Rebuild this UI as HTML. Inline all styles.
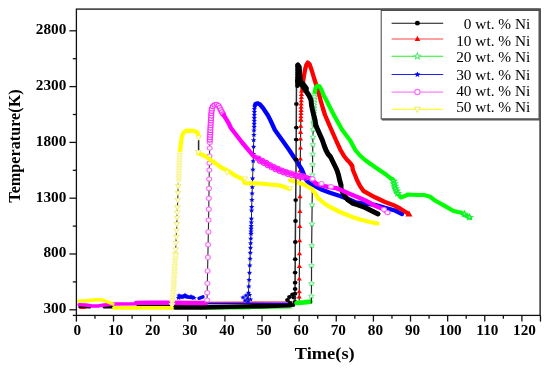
<!DOCTYPE html>
<html><head><meta charset="utf-8"><title>Temperature vs Time</title><style>
html,body{margin:0;padding:0;background:#fff;}
svg{display:block;}
.tl{font-family:"Liberation Serif",serif;font-weight:bold;font-size:14.0px;fill:#000;}
.at{font-family:"Liberation Serif",serif;font-weight:bold;font-size:16px;fill:#000;}
.lg{font-family:"Liberation Serif",serif;font-size:14.9px;fill:#000;}
</style></head>
<body><svg width="550" height="368" viewBox="0 0 550 368">
<rect x="0" y="0" width="550" height="368" fill="#fff"/>
<polyline points="200.0,309.2 250.0,309.0" fill="none" stroke="#00ff00" stroke-width="1.0" stroke-linejoin="round" stroke-linecap="round"/>
<polyline points="250.0,308.6 292.0,308.0" fill="none" stroke="#00ff00" stroke-width="1.0" stroke-linejoin="round" stroke-linecap="round"/>
<polyline points="79.5,307.0 90.0,307.3" fill="none" stroke="#000" stroke-width="2.4" stroke-linejoin="round" stroke-linecap="round"/>
<polyline points="104.0,307.2 113.0,307.2" fill="none" stroke="#000" stroke-width="2.4" stroke-linejoin="round" stroke-linecap="round"/>
<polyline points="137.0,305.6 172.0,305.6" fill="none" stroke="#000" stroke-width="1.4" stroke-linejoin="round" stroke-linecap="round"/>
<polyline points="175.0,307.4 200.0,307.4 230.0,306.8 260.0,306.2 290.0,305.2" fill="none" stroke="#000" stroke-width="4.6" stroke-linejoin="round" stroke-linecap="round"/>
<polyline points="80.0,308.4 85.0,308.4" fill="none" stroke="#ff0000" stroke-width="1.3" stroke-linejoin="round" stroke-linecap="round"/>
<polyline points="208.0,302.2 292.0,302.0" fill="none" stroke="#ff0000" stroke-width="1.1" stroke-linejoin="round" stroke-linecap="round"/>
<polyline points="205.0,303.5 290.0,303.3" fill="none" stroke="#0000ff" stroke-width="1.3" stroke-linejoin="round" stroke-linecap="round"/>
<polyline points="79.0,304.6 86.0,305.0 92.0,306.0 98.0,306.0 104.0,305.0 110.0,304.5 114.0,304.0 136.0,303.8" fill="none" stroke="#ff00ff" stroke-width="3.3" stroke-linejoin="round" stroke-linecap="round"/>
<polyline points="136.0,302.9 150.0,302.7 172.0,302.8 190.0,303.0 206.0,303.0" fill="none" stroke="#ff00ff" stroke-width="4.4" stroke-linejoin="round" stroke-linecap="round"/>
<polyline points="179.5,296.6 184.0,296.2 188.0,297.0 193.0,297.6" fill="none" stroke="#0000ff" stroke-width="3.6" stroke-linejoin="round" stroke-linecap="round"/>
<g transform="translate(179.0,295.5) scale(1.17,1)"><polygon points="0.00,-2.50 0.66,-0.91 2.38,-0.77 1.07,0.35 1.47,2.02 0.00,1.12 -1.47,2.02 -1.07,0.35 -2.38,-0.77 -0.66,-0.91" fill="#0000ff"/></g>
<g transform="translate(182.0,297.5) scale(1.17,1)"><polygon points="0.00,-2.50 0.66,-0.91 2.38,-0.77 1.07,0.35 1.47,2.02 0.00,1.12 -1.47,2.02 -1.07,0.35 -2.38,-0.77 -0.66,-0.91" fill="#0000ff"/></g>
<g transform="translate(185.0,295.0) scale(1.17,1)"><polygon points="0.00,-2.50 0.66,-0.91 2.38,-0.77 1.07,0.35 1.47,2.02 0.00,1.12 -1.47,2.02 -1.07,0.35 -2.38,-0.77 -0.66,-0.91" fill="#0000ff"/></g>
<g transform="translate(188.0,297.0) scale(1.17,1)"><polygon points="0.00,-2.50 0.66,-0.91 2.38,-0.77 1.07,0.35 1.47,2.02 0.00,1.12 -1.47,2.02 -1.07,0.35 -2.38,-0.77 -0.66,-0.91" fill="#0000ff"/></g>
<g transform="translate(191.0,296.5) scale(1.17,1)"><polygon points="0.00,-2.50 0.66,-0.91 2.38,-0.77 1.07,0.35 1.47,2.02 0.00,1.12 -1.47,2.02 -1.07,0.35 -2.38,-0.77 -0.66,-0.91" fill="#0000ff"/></g>
<g transform="translate(194.0,298.0) scale(1.17,1)"><polygon points="0.00,-2.50 0.66,-0.91 2.38,-0.77 1.07,0.35 1.47,2.02 0.00,1.12 -1.47,2.02 -1.07,0.35 -2.38,-0.77 -0.66,-0.91" fill="#0000ff"/></g>
<g transform="translate(178.5,298.0) scale(1.17,1)"><polygon points="0.00,-2.50 0.66,-0.91 2.38,-0.77 1.07,0.35 1.47,2.02 0.00,1.12 -1.47,2.02 -1.07,0.35 -2.38,-0.77 -0.66,-0.91" fill="#0000ff"/></g>
<polyline points="199.0,298.3 203.0,296.8" fill="none" stroke="#0000ff" stroke-width="3.4" stroke-linejoin="round" stroke-linecap="round"/>
<polyline points="78.5,301.0 86.0,300.8 92.0,300.3 95.0,299.7 101.0,299.7 105.0,300.9 109.0,302.5 113.0,304.0" fill="none" stroke="#ffff00" stroke-width="3.4" stroke-linejoin="round" stroke-linecap="round"/>
<polyline points="114.0,307.8 172.0,307.8" fill="none" stroke="#ffff00" stroke-width="3.8" stroke-linejoin="round" stroke-linecap="round"/>
<ellipse cx="287.5" cy="300" rx="2.4" ry="2.1" fill="#000"/>
<ellipse cx="289.5" cy="297" rx="2.4" ry="2.1" fill="#000"/>
<ellipse cx="292.5" cy="294.5" rx="2.4" ry="2.1" fill="#000"/>
<ellipse cx="294" cy="297.5" rx="2.4" ry="2.1" fill="#000"/>
<ellipse cx="295" cy="302" rx="2.4" ry="2.1" fill="#000"/>
<ellipse cx="293" cy="305" rx="2.4" ry="2.1" fill="#000"/>
<ellipse cx="290" cy="303" rx="2.4" ry="2.1" fill="#000"/>
<polyline points="296.5,303.0 304.0,302.4 310.5,301.6" fill="none" stroke="#00ff00" stroke-width="4.6" stroke-linejoin="round" stroke-linecap="round"/>
<g transform="translate(243.0,297.5) scale(1.17,1)"><polygon points="0.00,-2.50 0.66,-0.91 2.38,-0.77 1.07,0.35 1.47,2.02 0.00,1.12 -1.47,2.02 -1.07,0.35 -2.38,-0.77 -0.66,-0.91" fill="#0000ff"/></g>
<g transform="translate(246.0,295.5) scale(1.17,1)"><polygon points="0.00,-2.50 0.66,-0.91 2.38,-0.77 1.07,0.35 1.47,2.02 0.00,1.12 -1.47,2.02 -1.07,0.35 -2.38,-0.77 -0.66,-0.91" fill="#0000ff"/></g>
<g transform="translate(249.5,295.0) scale(1.17,1)"><polygon points="0.00,-2.50 0.66,-0.91 2.38,-0.77 1.07,0.35 1.47,2.02 0.00,1.12 -1.47,2.02 -1.07,0.35 -2.38,-0.77 -0.66,-0.91" fill="#0000ff"/></g>
<g transform="translate(247.5,298.5) scale(1.17,1)"><polygon points="0.00,-2.50 0.66,-0.91 2.38,-0.77 1.07,0.35 1.47,2.02 0.00,1.12 -1.47,2.02 -1.07,0.35 -2.38,-0.77 -0.66,-0.91" fill="#0000ff"/></g>
<g transform="translate(250.5,299.5) scale(1.17,1)"><polygon points="0.00,-2.50 0.66,-0.91 2.38,-0.77 1.07,0.35 1.47,2.02 0.00,1.12 -1.47,2.02 -1.07,0.35 -2.38,-0.77 -0.66,-0.91" fill="#0000ff"/></g>
<g transform="translate(245.0,300.5) scale(1.17,1)"><polygon points="0.00,-2.50 0.66,-0.91 2.38,-0.77 1.07,0.35 1.47,2.02 0.00,1.12 -1.47,2.02 -1.07,0.35 -2.38,-0.77 -0.66,-0.91" fill="#0000ff"/></g>
<g transform="translate(248.0,301.5) scale(1.17,1)"><polygon points="0.00,-2.50 0.66,-0.91 2.38,-0.77 1.07,0.35 1.47,2.02 0.00,1.12 -1.47,2.02 -1.07,0.35 -2.38,-0.77 -0.66,-0.91" fill="#0000ff"/></g>
<polyline points="172.0,305.0 173.5,290.0 175.0,262.0 176.5,232.0 177.5,205.0 178.6,178.0 179.5,160.0 180.5,148.0" fill="none" stroke="#2a2a2a" stroke-width="1.1" stroke-linejoin="round" stroke-linecap="round"/>
<polyline points="198.6,140.5 198.6,150.5" fill="none" stroke="#2a2a2a" stroke-width="1.5" stroke-linejoin="round" stroke-linecap="round"/>
<g transform="translate(178.3,186.3) scale(1.17,1)"><polygon points="0,2.4 2.2,-1.6 -2.2,-1.6" fill="#fff" stroke="#f2ee70" stroke-width="0.9"/></g>
<g transform="translate(178.0,192.8) scale(1.17,1)"><polygon points="0,2.4 2.2,-1.6 -2.2,-1.6" fill="#fff" stroke="#f2ee70" stroke-width="0.9"/></g>
<g transform="translate(177.7,200.0) scale(1.17,1)"><polygon points="0,2.4 2.2,-1.6 -2.2,-1.6" fill="#fff" stroke="#f2ee70" stroke-width="0.9"/></g>
<g transform="translate(177.4,207.3) scale(1.17,1)"><polygon points="0,2.4 2.2,-1.6 -2.2,-1.6" fill="#fff" stroke="#f2ee70" stroke-width="0.9"/></g>
<g transform="translate(177.2,212.5) scale(1.17,1)"><polygon points="0,2.4 2.2,-1.6 -2.2,-1.6" fill="#fff" stroke="#f2ee70" stroke-width="0.9"/></g>
<g transform="translate(177.0,217.7) scale(1.17,1)"><polygon points="0,2.4 2.2,-1.6 -2.2,-1.6" fill="#fff" stroke="#f2ee70" stroke-width="0.9"/></g>
<g transform="translate(176.8,224.1) scale(1.17,1)"><polygon points="0,2.4 2.2,-1.6 -2.2,-1.6" fill="#fff" stroke="#f2ee70" stroke-width="0.9"/></g>
<g transform="translate(176.6,230.5) scale(1.17,1)"><polygon points="0,2.4 2.2,-1.6 -2.2,-1.6" fill="#fff" stroke="#f2ee70" stroke-width="0.9"/></g>
<g transform="translate(176.3,236.8) scale(1.17,1)"><polygon points="0,2.4 2.2,-1.6 -2.2,-1.6" fill="#fff" stroke="#f2ee70" stroke-width="0.9"/></g>
<g transform="translate(175.9,243.2) scale(1.17,1)"><polygon points="0,2.4 2.2,-1.6 -2.2,-1.6" fill="#fff" stroke="#f2ee70" stroke-width="0.9"/></g>
<g transform="translate(175.6,249.5) scale(1.17,1)"><polygon points="0,2.4 2.2,-1.6 -2.2,-1.6" fill="#fff" stroke="#f2ee70" stroke-width="0.9"/></g>
<g transform="translate(175.4,254.0) scale(1.17,1)"><polygon points="0,2.4 2.2,-1.6 -2.2,-1.6" fill="#fff" stroke="#f2ee70" stroke-width="0.9"/></g>
<g transform="translate(178.6,181.0) scale(1.17,1)"><polygon points="0,2.4 2.2,-1.6 -2.2,-1.6" fill="#fff" stroke="#f8f590" stroke-width="0.9"/></g>
<g transform="translate(178.7,178.4) scale(1.17,1)"><polygon points="0,2.4 2.2,-1.6 -2.2,-1.6" fill="#fff" stroke="#f8f590" stroke-width="0.9"/></g>
<g transform="translate(178.8,175.8) scale(1.17,1)"><polygon points="0,2.4 2.2,-1.6 -2.2,-1.6" fill="#fff" stroke="#f8f590" stroke-width="0.9"/></g>
<g transform="translate(178.9,173.2) scale(1.17,1)"><polygon points="0,2.4 2.2,-1.6 -2.2,-1.6" fill="#fff" stroke="#f8f590" stroke-width="0.9"/></g>
<g transform="translate(179.1,170.6) scale(1.17,1)"><polygon points="0,2.4 2.2,-1.6 -2.2,-1.6" fill="#fff" stroke="#f8f590" stroke-width="0.9"/></g>
<g transform="translate(179.2,168.0) scale(1.17,1)"><polygon points="0,2.4 2.2,-1.6 -2.2,-1.6" fill="#fff" stroke="#f8f590" stroke-width="0.9"/></g>
<g transform="translate(179.3,165.4) scale(1.17,1)"><polygon points="0,2.4 2.2,-1.6 -2.2,-1.6" fill="#fff" stroke="#f8f590" stroke-width="0.9"/></g>
<g transform="translate(179.4,162.8) scale(1.17,1)"><polygon points="0,2.4 2.2,-1.6 -2.2,-1.6" fill="#fff" stroke="#f8f590" stroke-width="0.9"/></g>
<g transform="translate(179.5,160.2) scale(1.17,1)"><polygon points="0,2.4 2.2,-1.6 -2.2,-1.6" fill="#fff" stroke="#f8f590" stroke-width="0.9"/></g>
<g transform="translate(179.6,157.6) scale(1.17,1)"><polygon points="0,2.4 2.2,-1.6 -2.2,-1.6" fill="#fff" stroke="#f8f590" stroke-width="0.9"/></g>
<g transform="translate(179.8,155.0) scale(1.17,1)"><polygon points="0,2.4 2.2,-1.6 -2.2,-1.6" fill="#fff" stroke="#f8f590" stroke-width="0.9"/></g>
<g transform="translate(179.9,152.4) scale(1.17,1)"><polygon points="0,2.4 2.2,-1.6 -2.2,-1.6" fill="#fff" stroke="#f8f590" stroke-width="0.9"/></g>
<g transform="translate(172.0,305.0) scale(1.17,1)"><polygon points="0,2.4 2.2,-1.6 -2.2,-1.6" fill="#fff" stroke="#f8f590" stroke-width="0.9"/></g>
<g transform="translate(172.3,302.4) scale(1.17,1)"><polygon points="0,2.4 2.2,-1.6 -2.2,-1.6" fill="#fff" stroke="#f8f590" stroke-width="0.9"/></g>
<g transform="translate(172.5,299.8) scale(1.17,1)"><polygon points="0,2.4 2.2,-1.6 -2.2,-1.6" fill="#fff" stroke="#f8f590" stroke-width="0.9"/></g>
<g transform="translate(172.8,297.2) scale(1.17,1)"><polygon points="0,2.4 2.2,-1.6 -2.2,-1.6" fill="#fff" stroke="#f8f590" stroke-width="0.9"/></g>
<g transform="translate(173.0,294.7) scale(1.17,1)"><polygon points="0,2.4 2.2,-1.6 -2.2,-1.6" fill="#fff" stroke="#f8f590" stroke-width="0.9"/></g>
<g transform="translate(173.3,292.1) scale(1.17,1)"><polygon points="0,2.4 2.2,-1.6 -2.2,-1.6" fill="#fff" stroke="#f8f590" stroke-width="0.9"/></g>
<g transform="translate(173.5,289.5) scale(1.17,1)"><polygon points="0,2.4 2.2,-1.6 -2.2,-1.6" fill="#fff" stroke="#f8f590" stroke-width="0.9"/></g>
<g transform="translate(173.7,286.9) scale(1.17,1)"><polygon points="0,2.4 2.2,-1.6 -2.2,-1.6" fill="#fff" stroke="#f8f590" stroke-width="0.9"/></g>
<g transform="translate(173.8,284.3) scale(1.17,1)"><polygon points="0,2.4 2.2,-1.6 -2.2,-1.6" fill="#fff" stroke="#f8f590" stroke-width="0.9"/></g>
<g transform="translate(173.9,281.7) scale(1.17,1)"><polygon points="0,2.4 2.2,-1.6 -2.2,-1.6" fill="#fff" stroke="#f8f590" stroke-width="0.9"/></g>
<g transform="translate(174.1,279.1) scale(1.17,1)"><polygon points="0,2.4 2.2,-1.6 -2.2,-1.6" fill="#fff" stroke="#f8f590" stroke-width="0.9"/></g>
<g transform="translate(174.2,276.5) scale(1.17,1)"><polygon points="0,2.4 2.2,-1.6 -2.2,-1.6" fill="#fff" stroke="#f8f590" stroke-width="0.9"/></g>
<g transform="translate(174.4,273.9) scale(1.17,1)"><polygon points="0,2.4 2.2,-1.6 -2.2,-1.6" fill="#fff" stroke="#f8f590" stroke-width="0.9"/></g>
<g transform="translate(174.5,271.3) scale(1.17,1)"><polygon points="0,2.4 2.2,-1.6 -2.2,-1.6" fill="#fff" stroke="#f8f590" stroke-width="0.9"/></g>
<g transform="translate(174.6,268.7) scale(1.17,1)"><polygon points="0,2.4 2.2,-1.6 -2.2,-1.6" fill="#fff" stroke="#f8f590" stroke-width="0.9"/></g>
<g transform="translate(174.8,266.1) scale(1.17,1)"><polygon points="0,2.4 2.2,-1.6 -2.2,-1.6" fill="#fff" stroke="#f8f590" stroke-width="0.9"/></g>
<g transform="translate(174.9,263.5) scale(1.17,1)"><polygon points="0,2.4 2.2,-1.6 -2.2,-1.6" fill="#fff" stroke="#f8f590" stroke-width="0.9"/></g>
<g transform="translate(175.1,260.9) scale(1.17,1)"><polygon points="0,2.4 2.2,-1.6 -2.2,-1.6" fill="#fff" stroke="#f8f590" stroke-width="0.9"/></g>
<g transform="translate(175.5,258.3) scale(1.17,1)"><polygon points="0,2.4 2.2,-1.6 -2.2,-1.6" fill="#fff" stroke="#f8f590" stroke-width="0.9"/></g>
<g transform="translate(175.8,255.8) scale(1.17,1)"><polygon points="0,2.4 2.2,-1.6 -2.2,-1.6" fill="#fff" stroke="#f8f590" stroke-width="0.9"/></g>
<polyline points="207.0,303.0 207.6,270.0 208.6,220.0 209.3,170.0 209.8,140.0 210.6,120.0 211.5,110.0" fill="none" stroke="#2a2a2a" stroke-width="1.1" stroke-linejoin="round" stroke-linecap="round"/>
<g transform="translate(207.1,300.0) scale(1.17,1)"><circle r="2.1" fill="#fff" stroke="#ff70ff" stroke-width="1"/></g>
<g transform="translate(207.2,292.7) scale(1.17,1)"><circle r="2.1" fill="#fff" stroke="#ff70ff" stroke-width="1"/></g>
<g transform="translate(207.4,283.3) scale(1.17,1)"><circle r="2.1" fill="#fff" stroke="#ff70ff" stroke-width="1"/></g>
<g transform="translate(207.6,270.9) scale(1.17,1)"><circle r="2.1" fill="#fff" stroke="#ff70ff" stroke-width="1"/></g>
<g transform="translate(207.9,257.3) scale(1.17,1)"><circle r="2.1" fill="#fff" stroke="#ff70ff" stroke-width="1"/></g>
<g transform="translate(208.1,244.6) scale(1.17,1)"><circle r="2.1" fill="#fff" stroke="#ff70ff" stroke-width="1"/></g>
<g transform="translate(208.4,231.9) scale(1.17,1)"><circle r="2.1" fill="#fff" stroke="#ff70ff" stroke-width="1"/></g>
<g transform="translate(208.6,220.1) scale(1.17,1)"><circle r="2.1" fill="#fff" stroke="#ff70ff" stroke-width="1"/></g>
<g transform="translate(208.8,209.2) scale(1.17,1)"><circle r="2.1" fill="#fff" stroke="#ff70ff" stroke-width="1"/></g>
<g transform="translate(208.9,198.3) scale(1.17,1)"><circle r="2.1" fill="#fff" stroke="#ff70ff" stroke-width="1"/></g>
<g transform="translate(209.0,188.4) scale(1.17,1)"><circle r="2.1" fill="#fff" stroke="#ff70ff" stroke-width="1"/></g>
<g transform="translate(209.2,179.0) scale(1.17,1)"><circle r="2.1" fill="#fff" stroke="#ff70ff" stroke-width="1"/></g>
<g transform="translate(209.3,170.0) scale(1.17,1)"><circle r="2.1" fill="#fff" stroke="#ff70ff" stroke-width="1"/></g>
<g transform="translate(209.4,163.0) scale(1.17,1)"><circle r="2.1" fill="#fff" stroke="#ff70ff" stroke-width="1"/></g>
<g transform="translate(209.5,156.0) scale(1.17,1)"><circle r="2.1" fill="#fff" stroke="#ff70ff" stroke-width="1"/></g>
<g transform="translate(209.7,148.1) scale(1.17,1)"><circle r="2.1" fill="#fff" stroke="#ff70ff" stroke-width="1"/></g>
<g transform="translate(209.8,142.4) scale(1.17,1)"><circle r="2.1" fill="#fff" stroke="#ff70ff" stroke-width="1"/></g>
<g transform="translate(209.8,140.0) scale(1.17,1)"><circle r="2.1" fill="#fff" stroke="#ff30ff" stroke-width="1.1"/></g>
<g transform="translate(209.9,137.6) scale(1.17,1)"><circle r="2.1" fill="#fff" stroke="#ff30ff" stroke-width="1.1"/></g>
<g transform="translate(210.1,135.2) scale(1.17,1)"><circle r="2.1" fill="#fff" stroke="#ff30ff" stroke-width="1.1"/></g>
<g transform="translate(210.2,132.8) scale(1.17,1)"><circle r="2.1" fill="#fff" stroke="#ff30ff" stroke-width="1.1"/></g>
<g transform="translate(210.3,130.4) scale(1.17,1)"><circle r="2.1" fill="#fff" stroke="#ff30ff" stroke-width="1.1"/></g>
<g transform="translate(210.4,128.0) scale(1.17,1)"><circle r="2.1" fill="#fff" stroke="#ff30ff" stroke-width="1.1"/></g>
<g transform="translate(210.6,125.6) scale(1.17,1)"><circle r="2.1" fill="#fff" stroke="#ff30ff" stroke-width="1.1"/></g>
<g transform="translate(210.7,123.2) scale(1.17,1)"><circle r="2.1" fill="#fff" stroke="#ff30ff" stroke-width="1.1"/></g>
<g transform="translate(210.9,120.8) scale(1.17,1)"><circle r="2.1" fill="#fff" stroke="#ff30ff" stroke-width="1.1"/></g>
<g transform="translate(211.0,118.4) scale(1.17,1)"><circle r="2.1" fill="#fff" stroke="#ff30ff" stroke-width="1.1"/></g>
<g transform="translate(211.2,116.0) scale(1.17,1)"><circle r="2.1" fill="#fff" stroke="#ff30ff" stroke-width="1.1"/></g>
<g transform="translate(211.3,113.6) scale(1.17,1)"><circle r="2.1" fill="#fff" stroke="#ff30ff" stroke-width="1.1"/></g>
<g transform="translate(211.6,111.3) scale(1.17,1)"><circle r="2.1" fill="#fff" stroke="#ff30ff" stroke-width="1.1"/></g>
<g transform="translate(211.8,108.9) scale(1.17,1)"><circle r="2.1" fill="#fff" stroke="#ff30ff" stroke-width="1.1"/></g>
<g transform="translate(212.7,106.6) scale(1.17,1)"><circle r="2.1" fill="#fff" stroke="#ff30ff" stroke-width="1.1"/></g>
<g transform="translate(214.4,105.0) scale(1.17,1)"><circle r="2.1" fill="#fff" stroke="#ff30ff" stroke-width="1.1"/></g>
<g transform="translate(216.6,104.3) scale(1.17,1)"><circle r="2.1" fill="#fff" stroke="#ff30ff" stroke-width="1.1"/></g>
<g transform="translate(218.4,105.6) scale(1.17,1)"><circle r="2.1" fill="#fff" stroke="#ff30ff" stroke-width="1.1"/></g>
<g transform="translate(219.6,107.6) scale(1.17,1)"><circle r="2.1" fill="#fff" stroke="#ff30ff" stroke-width="1.1"/></g>
<g transform="translate(220.7,109.8) scale(1.17,1)"><circle r="2.1" fill="#fff" stroke="#ff30ff" stroke-width="1.1"/></g>
<g transform="translate(221.8,111.9) scale(1.17,1)"><circle r="2.1" fill="#fff" stroke="#ff30ff" stroke-width="1.1"/></g>
<g transform="translate(223.0,114.0) scale(1.17,1)"><circle r="2.1" fill="#fff" stroke="#ff30ff" stroke-width="1.1"/></g>
<polyline points="311.4,303.0 311.6,250.0 312.3,190.0 312.8,140.0 313.5,122.0" fill="none" stroke="#2a2a2a" stroke-width="1.2" stroke-linejoin="round" stroke-linecap="round"/>
<g transform="translate(311.4,296.2) scale(1.17,1)"><polygon points="0.00,-2.60 0.69,-0.95 2.47,-0.80 1.11,0.36 1.53,2.10 0.00,1.17 -1.53,2.10 -1.11,0.36 -2.47,-0.80 -0.69,-0.95" fill="#fff" stroke="#55e878" stroke-width="0.85"/></g>
<g transform="translate(311.5,283.6) scale(1.17,1)"><polygon points="0.00,-2.60 0.69,-0.95 2.47,-0.80 1.11,0.36 1.53,2.10 0.00,1.17 -1.53,2.10 -1.11,0.36 -2.47,-0.80 -0.69,-0.95" fill="#fff" stroke="#55e878" stroke-width="0.85"/></g>
<g transform="translate(311.5,265.7) scale(1.17,1)"><polygon points="0.00,-2.60 0.69,-0.95 2.47,-0.80 1.11,0.36 1.53,2.10 0.00,1.17 -1.53,2.10 -1.11,0.36 -2.47,-0.80 -0.69,-0.95" fill="#fff" stroke="#55e878" stroke-width="0.85"/></g>
<g transform="translate(311.7,245.7) scale(1.17,1)"><polygon points="0.00,-2.60 0.69,-0.95 2.47,-0.80 1.11,0.36 1.53,2.10 0.00,1.17 -1.53,2.10 -1.11,0.36 -2.47,-0.80 -0.69,-0.95" fill="#fff" stroke="#55e878" stroke-width="0.85"/></g>
<g transform="translate(311.9,224.0) scale(1.17,1)"><polygon points="0.00,-2.60 0.69,-0.95 2.47,-0.80 1.11,0.36 1.53,2.10 0.00,1.17 -1.53,2.10 -1.11,0.36 -2.47,-0.80 -0.69,-0.95" fill="#fff" stroke="#55e878" stroke-width="0.85"/></g>
<g transform="translate(312.1,204.9) scale(1.17,1)"><polygon points="0.00,-2.60 0.69,-0.95 2.47,-0.80 1.11,0.36 1.53,2.10 0.00,1.17 -1.53,2.10 -1.11,0.36 -2.47,-0.80 -0.69,-0.95" fill="#fff" stroke="#55e878" stroke-width="0.85"/></g>
<g transform="translate(312.4,175.1) scale(1.17,1)"><polygon points="0.00,-2.60 0.69,-0.95 2.47,-0.80 1.11,0.36 1.53,2.10 0.00,1.17 -1.53,2.10 -1.11,0.36 -2.47,-0.80 -0.69,-0.95" fill="#fff" stroke="#55e878" stroke-width="0.85"/></g>
<g transform="translate(312.6,164.7) scale(1.17,1)"><polygon points="0.00,-2.60 0.69,-0.95 2.47,-0.80 1.11,0.36 1.53,2.10 0.00,1.17 -1.53,2.10 -1.11,0.36 -2.47,-0.80 -0.69,-0.95" fill="#fff" stroke="#55e878" stroke-width="0.85"/></g>
<g transform="translate(312.7,154.2) scale(1.17,1)"><polygon points="0.00,-2.60 0.69,-0.95 2.47,-0.80 1.11,0.36 1.53,2.10 0.00,1.17 -1.53,2.10 -1.11,0.36 -2.47,-0.80 -0.69,-0.95" fill="#fff" stroke="#55e878" stroke-width="0.85"/></g>
<g transform="translate(312.8,144.7) scale(1.17,1)"><polygon points="0.00,-2.60 0.69,-0.95 2.47,-0.80 1.11,0.36 1.53,2.10 0.00,1.17 -1.53,2.10 -1.11,0.36 -2.47,-0.80 -0.69,-0.95" fill="#fff" stroke="#55e878" stroke-width="0.85"/></g>
<g transform="translate(312.9,137.1) scale(1.17,1)"><polygon points="0.00,-2.60 0.69,-0.95 2.47,-0.80 1.11,0.36 1.53,2.10 0.00,1.17 -1.53,2.10 -1.11,0.36 -2.47,-0.80 -0.69,-0.95" fill="#fff" stroke="#55e878" stroke-width="0.85"/></g>
<g transform="translate(313.2,129.5) scale(1.17,1)"><polygon points="0.00,-2.60 0.69,-0.95 2.47,-0.80 1.11,0.36 1.53,2.10 0.00,1.17 -1.53,2.10 -1.11,0.36 -2.47,-0.80 -0.69,-0.95" fill="#fff" stroke="#55e878" stroke-width="0.85"/></g>
<g transform="translate(313.4,123.4) scale(1.17,1)"><polygon points="0.00,-2.60 0.69,-0.95 2.47,-0.80 1.11,0.36 1.53,2.10 0.00,1.17 -1.53,2.10 -1.11,0.36 -2.47,-0.80 -0.69,-0.95" fill="#fff" stroke="#55e878" stroke-width="0.85"/></g>
<g transform="translate(313.8,122.0) scale(1.17,1)"><polygon points="0.00,-2.60 0.69,-0.95 2.47,-0.80 1.11,0.36 1.53,2.10 0.00,1.17 -1.53,2.10 -1.11,0.36 -2.47,-0.80 -0.69,-0.95" fill="#fff" stroke="#55e878" stroke-width="0.85"/></g>
<g transform="translate(313.9,119.2) scale(1.17,1)"><polygon points="0.00,-2.60 0.69,-0.95 2.47,-0.80 1.11,0.36 1.53,2.10 0.00,1.17 -1.53,2.10 -1.11,0.36 -2.47,-0.80 -0.69,-0.95" fill="#fff" stroke="#55e878" stroke-width="0.85"/></g>
<g transform="translate(313.9,116.4) scale(1.17,1)"><polygon points="0.00,-2.60 0.69,-0.95 2.47,-0.80 1.11,0.36 1.53,2.10 0.00,1.17 -1.53,2.10 -1.11,0.36 -2.47,-0.80 -0.69,-0.95" fill="#fff" stroke="#55e878" stroke-width="0.85"/></g>
<g transform="translate(314.0,113.6) scale(1.17,1)"><polygon points="0.00,-2.60 0.69,-0.95 2.47,-0.80 1.11,0.36 1.53,2.10 0.00,1.17 -1.53,2.10 -1.11,0.36 -2.47,-0.80 -0.69,-0.95" fill="#fff" stroke="#55e878" stroke-width="0.85"/></g>
<g transform="translate(314.1,110.8) scale(1.17,1)"><polygon points="0.00,-2.60 0.69,-0.95 2.47,-0.80 1.11,0.36 1.53,2.10 0.00,1.17 -1.53,2.10 -1.11,0.36 -2.47,-0.80 -0.69,-0.95" fill="#fff" stroke="#55e878" stroke-width="0.85"/></g>
<g transform="translate(314.1,108.0) scale(1.17,1)"><polygon points="0.00,-2.60 0.69,-0.95 2.47,-0.80 1.11,0.36 1.53,2.10 0.00,1.17 -1.53,2.10 -1.11,0.36 -2.47,-0.80 -0.69,-0.95" fill="#fff" stroke="#55e878" stroke-width="0.85"/></g>
<g transform="translate(314.2,105.2) scale(1.17,1)"><polygon points="0.00,-2.60 0.69,-0.95 2.47,-0.80 1.11,0.36 1.53,2.10 0.00,1.17 -1.53,2.10 -1.11,0.36 -2.47,-0.80 -0.69,-0.95" fill="#fff" stroke="#55e878" stroke-width="0.85"/></g>
<g transform="translate(314.3,102.4) scale(1.17,1)"><polygon points="0.00,-2.60 0.69,-0.95 2.47,-0.80 1.11,0.36 1.53,2.10 0.00,1.17 -1.53,2.10 -1.11,0.36 -2.47,-0.80 -0.69,-0.95" fill="#fff" stroke="#55e878" stroke-width="0.85"/></g>
<g transform="translate(314.4,99.6) scale(1.17,1)"><polygon points="0.00,-2.60 0.69,-0.95 2.47,-0.80 1.11,0.36 1.53,2.10 0.00,1.17 -1.53,2.10 -1.11,0.36 -2.47,-0.80 -0.69,-0.95" fill="#fff" stroke="#55e878" stroke-width="0.85"/></g>
<g transform="translate(314.5,96.8) scale(1.17,1)"><polygon points="0.00,-2.60 0.69,-0.95 2.47,-0.80 1.11,0.36 1.53,2.10 0.00,1.17 -1.53,2.10 -1.11,0.36 -2.47,-0.80 -0.69,-0.95" fill="#fff" stroke="#55e878" stroke-width="0.85"/></g>
<g transform="translate(314.5,94.0) scale(1.17,1)"><polygon points="0.00,-2.60 0.69,-0.95 2.47,-0.80 1.11,0.36 1.53,2.10 0.00,1.17 -1.53,2.10 -1.11,0.36 -2.47,-0.80 -0.69,-0.95" fill="#fff" stroke="#55e878" stroke-width="0.85"/></g>
<polyline points="299.2,300.0 299.6,240.0 300.2,180.0 300.6,130.0 301.3,100.0 301.6,88.0" fill="none" stroke="#2a2a2a" stroke-width="1.2" stroke-linejoin="round" stroke-linecap="round"/>
<g transform="translate(299.2,297.0) scale(1.17,1)"><polygon points="0,-2.6 2.2,1.5 -2.2,1.5" fill="#ff0000"/></g>
<g transform="translate(299.3,291.8) scale(1.17,1)"><polygon points="0,-2.6 2.2,1.5 -2.2,1.5" fill="#ff0000"/></g>
<g transform="translate(299.3,279.1) scale(1.17,1)"><polygon points="0,-2.6 2.2,1.5 -2.2,1.5" fill="#ff0000"/></g>
<g transform="translate(299.4,266.4) scale(1.17,1)"><polygon points="0,-2.6 2.2,1.5 -2.2,1.5" fill="#ff0000"/></g>
<g transform="translate(299.5,253.8) scale(1.17,1)"><polygon points="0,-2.6 2.2,1.5 -2.2,1.5" fill="#ff0000"/></g>
<g transform="translate(299.6,240.8) scale(1.17,1)"><polygon points="0,-2.6 2.2,1.5 -2.2,1.5" fill="#ff0000"/></g>
<g transform="translate(299.7,226.6) scale(1.17,1)"><polygon points="0,-2.6 2.2,1.5 -2.2,1.5" fill="#ff0000"/></g>
<g transform="translate(299.9,211.6) scale(1.17,1)"><polygon points="0,-2.6 2.2,1.5 -2.2,1.5" fill="#ff0000"/></g>
<g transform="translate(300.0,196.7) scale(1.17,1)"><polygon points="0,-2.6 2.2,1.5 -2.2,1.5" fill="#ff0000"/></g>
<g transform="translate(300.3,170.4) scale(1.17,1)"><polygon points="0,-2.6 2.2,1.5 -2.2,1.5" fill="#ff0000"/></g>
<g transform="translate(300.4,159.0) scale(1.17,1)"><polygon points="0,-2.6 2.2,1.5 -2.2,1.5" fill="#ff0000"/></g>
<g transform="translate(300.5,148.1) scale(1.17,1)"><polygon points="0,-2.6 2.2,1.5 -2.2,1.5" fill="#ff0000"/></g>
<g transform="translate(300.5,139.0) scale(1.17,1)"><polygon points="0,-2.6 2.2,1.5 -2.2,1.5" fill="#ff0000"/></g>
<g transform="translate(300.6,132.4) scale(1.17,1)"><polygon points="0,-2.6 2.2,1.5 -2.2,1.5" fill="#ff0000"/></g>
<g transform="translate(300.7,126.3) scale(1.17,1)"><polygon points="0,-2.6 2.2,1.5 -2.2,1.5" fill="#ff0000"/></g>
<g transform="translate(300.8,120.0) scale(1.17,1)"><polygon points="0,-2.6 2.2,1.5 -2.2,1.5" fill="#ff0000"/></g>
<g transform="translate(300.8,120.0) scale(1.17,1)"><polygon points="0,-2.6 2.2,1.5 -2.2,1.5" fill="#ff0000"/></g>
<g transform="translate(300.9,116.8) scale(1.17,1)"><polygon points="0,-2.6 2.2,1.5 -2.2,1.5" fill="#ff0000"/></g>
<g transform="translate(301.0,113.6) scale(1.17,1)"><polygon points="0,-2.6 2.2,1.5 -2.2,1.5" fill="#ff0000"/></g>
<g transform="translate(301.1,110.4) scale(1.17,1)"><polygon points="0,-2.6 2.2,1.5 -2.2,1.5" fill="#ff0000"/></g>
<g transform="translate(301.1,107.2) scale(1.17,1)"><polygon points="0,-2.6 2.2,1.5 -2.2,1.5" fill="#ff0000"/></g>
<g transform="translate(301.2,104.0) scale(1.17,1)"><polygon points="0,-2.6 2.2,1.5 -2.2,1.5" fill="#ff0000"/></g>
<g transform="translate(301.3,100.8) scale(1.17,1)"><polygon points="0,-2.6 2.2,1.5 -2.2,1.5" fill="#ff0000"/></g>
<g transform="translate(301.4,97.6) scale(1.17,1)"><polygon points="0,-2.6 2.2,1.5 -2.2,1.5" fill="#ff0000"/></g>
<g transform="translate(301.5,94.4) scale(1.17,1)"><polygon points="0,-2.6 2.2,1.5 -2.2,1.5" fill="#ff0000"/></g>
<g transform="translate(301.6,91.2) scale(1.17,1)"><polygon points="0,-2.6 2.2,1.5 -2.2,1.5" fill="#ff0000"/></g>
<polyline points="248.0,302.0 249.6,270.0 250.8,240.0 251.9,200.0 253.2,160.0 254.0,130.0 254.6,106.0" fill="none" stroke="#2a2a2a" stroke-width="1.0" stroke-linejoin="round" stroke-linecap="round"/>
<g transform="translate(248.5,292.7) scale(1.17,1)"><polygon points="0.00,-2.50 0.66,-0.91 2.38,-0.77 1.07,0.35 1.47,2.02 0.00,1.12 -1.47,2.02 -1.07,0.35 -2.38,-0.77 -0.66,-0.91" fill="#0000ff"/></g>
<g transform="translate(248.8,286.4) scale(1.17,1)"><polygon points="0.00,-2.50 0.66,-0.91 2.38,-0.77 1.07,0.35 1.47,2.02 0.00,1.12 -1.47,2.02 -1.07,0.35 -2.38,-0.77 -0.66,-0.91" fill="#0000ff"/></g>
<g transform="translate(249.1,280.0) scale(1.17,1)"><polygon points="0.00,-2.50 0.66,-0.91 2.38,-0.77 1.07,0.35 1.47,2.02 0.00,1.12 -1.47,2.02 -1.07,0.35 -2.38,-0.77 -0.66,-0.91" fill="#0000ff"/></g>
<g transform="translate(249.5,272.7) scale(1.17,1)"><polygon points="0.00,-2.50 0.66,-0.91 2.38,-0.77 1.07,0.35 1.47,2.02 0.00,1.12 -1.47,2.02 -1.07,0.35 -2.38,-0.77 -0.66,-0.91" fill="#0000ff"/></g>
<g transform="translate(249.8,265.5) scale(1.17,1)"><polygon points="0.00,-2.50 0.66,-0.91 2.38,-0.77 1.07,0.35 1.47,2.02 0.00,1.12 -1.47,2.02 -1.07,0.35 -2.38,-0.77 -0.66,-0.91" fill="#0000ff"/></g>
<g transform="translate(250.1,258.7) scale(1.17,1)"><polygon points="0.00,-2.50 0.66,-0.91 2.38,-0.77 1.07,0.35 1.47,2.02 0.00,1.12 -1.47,2.02 -1.07,0.35 -2.38,-0.77 -0.66,-0.91" fill="#0000ff"/></g>
<g transform="translate(250.3,252.7) scale(1.17,1)"><polygon points="0.00,-2.50 0.66,-0.91 2.38,-0.77 1.07,0.35 1.47,2.02 0.00,1.12 -1.47,2.02 -1.07,0.35 -2.38,-0.77 -0.66,-0.91" fill="#0000ff"/></g>
<g transform="translate(250.5,247.7) scale(1.17,1)"><polygon points="0.00,-2.50 0.66,-0.91 2.38,-0.77 1.07,0.35 1.47,2.02 0.00,1.12 -1.47,2.02 -1.07,0.35 -2.38,-0.77 -0.66,-0.91" fill="#0000ff"/></g>
<g transform="translate(250.7,243.2) scale(1.17,1)"><polygon points="0.00,-2.50 0.66,-0.91 2.38,-0.77 1.07,0.35 1.47,2.02 0.00,1.12 -1.47,2.02 -1.07,0.35 -2.38,-0.77 -0.66,-0.91" fill="#0000ff"/></g>
<g transform="translate(250.8,238.6) scale(1.17,1)"><polygon points="0.00,-2.50 0.66,-0.91 2.38,-0.77 1.07,0.35 1.47,2.02 0.00,1.12 -1.47,2.02 -1.07,0.35 -2.38,-0.77 -0.66,-0.91" fill="#0000ff"/></g>
<g transform="translate(251.0,234.0) scale(1.17,1)"><polygon points="0.00,-2.50 0.66,-0.91 2.38,-0.77 1.07,0.35 1.47,2.02 0.00,1.12 -1.47,2.02 -1.07,0.35 -2.38,-0.77 -0.66,-0.91" fill="#0000ff"/></g>
<g transform="translate(251.0,231.4) scale(1.17,1)"><polygon points="0.00,-2.50 0.66,-0.91 2.38,-0.77 1.07,0.35 1.47,2.02 0.00,1.12 -1.47,2.02 -1.07,0.35 -2.38,-0.77 -0.66,-0.91" fill="#0000ff"/></g>
<g transform="translate(251.1,228.6) scale(1.17,1)"><polygon points="0.00,-2.50 0.66,-0.91 2.38,-0.77 1.07,0.35 1.47,2.02 0.00,1.12 -1.47,2.02 -1.07,0.35 -2.38,-0.77 -0.66,-0.91" fill="#0000ff"/></g>
<g transform="translate(251.2,226.0) scale(1.17,1)"><polygon points="0.00,-2.50 0.66,-0.91 2.38,-0.77 1.07,0.35 1.47,2.02 0.00,1.12 -1.47,2.02 -1.07,0.35 -2.38,-0.77 -0.66,-0.91" fill="#0000ff"/></g>
<g transform="translate(251.3,222.3) scale(1.17,1)"><polygon points="0.00,-2.50 0.66,-0.91 2.38,-0.77 1.07,0.35 1.47,2.02 0.00,1.12 -1.47,2.02 -1.07,0.35 -2.38,-0.77 -0.66,-0.91" fill="#0000ff"/></g>
<g transform="translate(251.4,218.6) scale(1.17,1)"><polygon points="0.00,-2.50 0.66,-0.91 2.38,-0.77 1.07,0.35 1.47,2.02 0.00,1.12 -1.47,2.02 -1.07,0.35 -2.38,-0.77 -0.66,-0.91" fill="#0000ff"/></g>
<g transform="translate(251.6,210.5) scale(1.17,1)"><polygon points="0.00,-2.50 0.66,-0.91 2.38,-0.77 1.07,0.35 1.47,2.02 0.00,1.12 -1.47,2.02 -1.07,0.35 -2.38,-0.77 -0.66,-0.91" fill="#0000ff"/></g>
<g transform="translate(251.7,206.8) scale(1.17,1)"><polygon points="0.00,-2.50 0.66,-0.91 2.38,-0.77 1.07,0.35 1.47,2.02 0.00,1.12 -1.47,2.02 -1.07,0.35 -2.38,-0.77 -0.66,-0.91" fill="#0000ff"/></g>
<g transform="translate(251.9,200.0) scale(1.17,1)"><polygon points="0.00,-2.50 0.66,-0.91 2.38,-0.77 1.07,0.35 1.47,2.02 0.00,1.12 -1.47,2.02 -1.07,0.35 -2.38,-0.77 -0.66,-0.91" fill="#0000ff"/></g>
<g transform="translate(252.1,193.5) scale(1.17,1)"><polygon points="0.00,-2.50 0.66,-0.91 2.38,-0.77 1.07,0.35 1.47,2.02 0.00,1.12 -1.47,2.02 -1.07,0.35 -2.38,-0.77 -0.66,-0.91" fill="#0000ff"/></g>
<g transform="translate(252.3,187.2) scale(1.17,1)"><polygon points="0.00,-2.50 0.66,-0.91 2.38,-0.77 1.07,0.35 1.47,2.02 0.00,1.12 -1.47,2.02 -1.07,0.35 -2.38,-0.77 -0.66,-0.91" fill="#0000ff"/></g>
<g transform="translate(252.6,178.3) scale(1.17,1)"><polygon points="0.00,-2.50 0.66,-0.91 2.38,-0.77 1.07,0.35 1.47,2.02 0.00,1.12 -1.47,2.02 -1.07,0.35 -2.38,-0.77 -0.66,-0.91" fill="#0000ff"/></g>
<g transform="translate(252.9,169.6) scale(1.17,1)"><polygon points="0.00,-2.50 0.66,-0.91 2.38,-0.77 1.07,0.35 1.47,2.02 0.00,1.12 -1.47,2.02 -1.07,0.35 -2.38,-0.77 -0.66,-0.91" fill="#0000ff"/></g>
<g transform="translate(253.2,161.2) scale(1.17,1)"><polygon points="0.00,-2.50 0.66,-0.91 2.38,-0.77 1.07,0.35 1.47,2.02 0.00,1.12 -1.47,2.02 -1.07,0.35 -2.38,-0.77 -0.66,-0.91" fill="#0000ff"/></g>
<g transform="translate(253.4,154.0) scale(1.17,1)"><polygon points="0.00,-2.50 0.66,-0.91 2.38,-0.77 1.07,0.35 1.47,2.02 0.00,1.12 -1.47,2.02 -1.07,0.35 -2.38,-0.77 -0.66,-0.91" fill="#0000ff"/></g>
<g transform="translate(253.6,146.7) scale(1.17,1)"><polygon points="0.00,-2.50 0.66,-0.91 2.38,-0.77 1.07,0.35 1.47,2.02 0.00,1.12 -1.47,2.02 -1.07,0.35 -2.38,-0.77 -0.66,-0.91" fill="#0000ff"/></g>
<g transform="translate(253.7,140.2) scale(1.17,1)"><polygon points="0.00,-2.50 0.66,-0.91 2.38,-0.77 1.07,0.35 1.47,2.02 0.00,1.12 -1.47,2.02 -1.07,0.35 -2.38,-0.77 -0.66,-0.91" fill="#0000ff"/></g>
<g transform="translate(253.9,134.9) scale(1.17,1)"><polygon points="0.00,-2.50 0.66,-0.91 2.38,-0.77 1.07,0.35 1.47,2.02 0.00,1.12 -1.47,2.02 -1.07,0.35 -2.38,-0.77 -0.66,-0.91" fill="#0000ff"/></g>
<g transform="translate(254.0,130.4) scale(1.17,1)"><polygon points="0.00,-2.50 0.66,-0.91 2.38,-0.77 1.07,0.35 1.47,2.02 0.00,1.12 -1.47,2.02 -1.07,0.35 -2.38,-0.77 -0.66,-0.91" fill="#0000ff"/></g>
<g transform="translate(254.2,127.0) scale(1.17,1)"><polygon points="0.00,-2.50 0.66,-0.91 2.38,-0.77 1.07,0.35 1.47,2.02 0.00,1.12 -1.47,2.02 -1.07,0.35 -2.38,-0.77 -0.66,-0.91" fill="#0000ff"/></g>
<g transform="translate(254.2,124.0) scale(1.17,1)"><polygon points="0.00,-2.50 0.66,-0.91 2.38,-0.77 1.07,0.35 1.47,2.02 0.00,1.12 -1.47,2.02 -1.07,0.35 -2.38,-0.77 -0.66,-0.91" fill="#0000ff"/></g>
<g transform="translate(254.3,121.0) scale(1.17,1)"><polygon points="0.00,-2.50 0.66,-0.91 2.38,-0.77 1.07,0.35 1.47,2.02 0.00,1.12 -1.47,2.02 -1.07,0.35 -2.38,-0.77 -0.66,-0.91" fill="#0000ff"/></g>
<g transform="translate(254.3,118.0) scale(1.17,1)"><polygon points="0.00,-2.50 0.66,-0.91 2.38,-0.77 1.07,0.35 1.47,2.02 0.00,1.12 -1.47,2.02 -1.07,0.35 -2.38,-0.77 -0.66,-0.91" fill="#0000ff"/></g>
<g transform="translate(254.3,115.0) scale(1.17,1)"><polygon points="0.00,-2.50 0.66,-0.91 2.38,-0.77 1.07,0.35 1.47,2.02 0.00,1.12 -1.47,2.02 -1.07,0.35 -2.38,-0.77 -0.66,-0.91" fill="#0000ff"/></g>
<g transform="translate(254.4,112.0) scale(1.17,1)"><polygon points="0.00,-2.50 0.66,-0.91 2.38,-0.77 1.07,0.35 1.47,2.02 0.00,1.12 -1.47,2.02 -1.07,0.35 -2.38,-0.77 -0.66,-0.91" fill="#0000ff"/></g>
<g transform="translate(254.4,109.0) scale(1.17,1)"><polygon points="0.00,-2.50 0.66,-0.91 2.38,-0.77 1.07,0.35 1.47,2.02 0.00,1.12 -1.47,2.02 -1.07,0.35 -2.38,-0.77 -0.66,-0.91" fill="#0000ff"/></g>
<polyline points="254.8,106.0 255.4,104.0 257.5,103.3 260.0,104.5 263.0,108.0 268.0,115.5 270.3,120.0 274.9,130.0 282.1,140.0 289.2,150.0 293.8,157.0 296.5,161.0 302.1,170.0 306.2,180.0 310.0,184.0 315.0,186.0 322.0,189.8 330.0,192.8 340.0,196.0 350.0,199.8 356.0,202.5 365.0,203.6 375.0,204.8 385.0,207.8 395.0,210.5 402.0,214.0" fill="none" stroke="#0000ff" stroke-width="4.3" stroke-linejoin="round" stroke-linecap="round"/>
<polyline points="180.1,150.0 180.6,146.0 181.8,137.0 183.5,132.5 186.5,130.6 194.0,130.8 197.4,132.5 198.6,136.5" fill="none" stroke="#ffff00" stroke-width="4.2" stroke-linejoin="round" stroke-linecap="round"/>
<polyline points="198.2,153.2 205.0,156.0 215.0,163.0 222.0,168.0 230.0,172.0 235.0,175.5 240.0,177.8 243.5,179.5 244.5,183.0 250.0,183.3 260.0,183.5 270.0,184.5 280.0,185.5 288.0,188.2 290.0,189.0" fill="none" stroke="#ffff00" stroke-width="4.2" stroke-linejoin="round" stroke-linecap="round"/>
<polyline points="290.0,180.3 295.0,181.5 305.0,185.0 312.0,189.0 315.0,193.0 318.0,198.0 325.0,204.0 331.0,207.5 340.0,212.0 352.2,217.0 360.0,219.5 370.0,222.0 377.5,223.5" fill="none" stroke="#ffff00" stroke-width="4.2" stroke-linejoin="round" stroke-linecap="round"/>
<g transform="translate(198.2,152.2) scale(1.17,1)"><polygon points="0,2.4 2.2,-1.6 -2.2,-1.6" fill="#fff" stroke="#f2ee70" stroke-width="0.9"/></g>
<g transform="translate(227.0,172.5) scale(1.17,1)"><polygon points="0,2.4 2.2,-1.6 -2.2,-1.6" fill="#fff" stroke="#f2ee70" stroke-width="0.9"/></g>
<g transform="translate(245.0,178.5) scale(1.17,1)"><polygon points="0,2.4 2.2,-1.6 -2.2,-1.6" fill="#fff" stroke="#f2ee70" stroke-width="0.9"/></g>
<g transform="translate(198.6,137.5) scale(1.17,1)"><polygon points="0,2.4 2.2,-1.6 -2.2,-1.6" fill="#fff" stroke="#f2ee70" stroke-width="0.9"/></g>
<g transform="translate(290.0,188.0) scale(1.17,1)"><polygon points="0,2.4 2.2,-1.6 -2.2,-1.6" fill="#fff" stroke="#f2ee70" stroke-width="0.9"/></g>
<polyline points="302.4,90.0 302.8,84.0 303.6,78.0 305.0,70.0 306.3,65.0 307.8,62.5 309.5,64.0 311.6,70.0 314.6,80.0 318.0,90.0 320.5,100.0 322.8,108.0 325.0,115.0 328.0,122.0 330.6,128.0 335.9,140.0 340.5,150.0 344.0,156.0 347.2,160.0 349.7,162.5 352.2,166.0 352.9,170.0 355.0,175.0 357.0,180.0 360.0,186.0 363.5,191.0 370.0,194.6 375.0,197.3 385.0,202.0 395.0,205.8 400.0,208.5 408.0,213.5" fill="none" stroke="#ff0000" stroke-width="4.3" stroke-linejoin="round" stroke-linecap="round"/>
<polygon points="409,210.5 412.5,216.5 405.5,216.5" fill="#ff0000"/>
<g transform="translate(352.2,164.8) scale(1.17,1)"><polygon points="0,-2.6 2.2,1.5 -2.2,1.5" fill="#ff0000"/></g>
<polyline points="314.8,92.0 315.6,88.0 317.3,85.8 319.5,86.3 321.4,89.5 323.5,95.0 326.3,100.0 330.0,107.5 333.9,115.0 338.0,122.5 342.0,129.5 346.0,135.0 350.2,140.5 355.3,150.0 360.0,155.5 365.0,160.0 372.0,165.0 380.0,170.5 386.0,174.5 390.0,177.8 393.4,180.0 395.3,188.2 398.3,194.3 400.8,197.4 404.4,196.2 408.1,194.5 416.7,195.0 424.0,195.0 430.1,196.8 435.0,200.5 444.2,205.7 453.5,211.0 458.0,212.0 461.0,212.5 464.6,215.0 470.1,217.7" fill="none" stroke="#00ff00" stroke-width="4.2" stroke-linejoin="round" stroke-linecap="round"/>
<g transform="translate(393.6,181.0) scale(1.17,1)"><polygon points="0.00,-2.60 0.69,-0.95 2.47,-0.80 1.11,0.36 1.53,2.10 0.00,1.17 -1.53,2.10 -1.11,0.36 -2.47,-0.80 -0.69,-0.95" fill="#b0ffb0" stroke="#10f030" stroke-width="1.2"/></g>
<g transform="translate(394.2,183.5) scale(1.17,1)"><polygon points="0.00,-2.60 0.69,-0.95 2.47,-0.80 1.11,0.36 1.53,2.10 0.00,1.17 -1.53,2.10 -1.11,0.36 -2.47,-0.80 -0.69,-0.95" fill="#b0ffb0" stroke="#10f030" stroke-width="1.2"/></g>
<g transform="translate(394.8,186.1) scale(1.17,1)"><polygon points="0.00,-2.60 0.69,-0.95 2.47,-0.80 1.11,0.36 1.53,2.10 0.00,1.17 -1.53,2.10 -1.11,0.36 -2.47,-0.80 -0.69,-0.95" fill="#b0ffb0" stroke="#10f030" stroke-width="1.2"/></g>
<g transform="translate(395.5,188.6) scale(1.17,1)"><polygon points="0.00,-2.60 0.69,-0.95 2.47,-0.80 1.11,0.36 1.53,2.10 0.00,1.17 -1.53,2.10 -1.11,0.36 -2.47,-0.80 -0.69,-0.95" fill="#b0ffb0" stroke="#10f030" stroke-width="1.2"/></g>
<g transform="translate(396.6,190.9) scale(1.17,1)"><polygon points="0.00,-2.60 0.69,-0.95 2.47,-0.80 1.11,0.36 1.53,2.10 0.00,1.17 -1.53,2.10 -1.11,0.36 -2.47,-0.80 -0.69,-0.95" fill="#b0ffb0" stroke="#10f030" stroke-width="1.2"/></g>
<g transform="translate(397.7,193.3) scale(1.17,1)"><polygon points="0.00,-2.60 0.69,-0.95 2.47,-0.80 1.11,0.36 1.53,2.10 0.00,1.17 -1.53,2.10 -1.11,0.36 -2.47,-0.80 -0.69,-0.95" fill="#b0ffb0" stroke="#10f030" stroke-width="1.2"/></g>
<g transform="translate(464.5,214.0) scale(1.17,1)"><polygon points="0.00,-2.60 0.69,-0.95 2.47,-0.80 1.11,0.36 1.53,2.10 0.00,1.17 -1.53,2.10 -1.11,0.36 -2.47,-0.80 -0.69,-0.95" fill="#b0ffb0" stroke="#10f030" stroke-width="1.2"/></g>
<g transform="translate(469.5,217.2) scale(1.17,1)"><polygon points="0.00,-2.60 0.69,-0.95 2.47,-0.80 1.11,0.36 1.53,2.10 0.00,1.17 -1.53,2.10 -1.11,0.36 -2.47,-0.80 -0.69,-0.95" fill="#b0ffb0" stroke="#10f030" stroke-width="1.2"/></g>
<polyline points="295.0,300.0 295.2,260.0 295.5,220.0 296.0,170.0 296.3,120.0 296.5,80.0 296.8,66.0" fill="none" stroke="#2a2a2a" stroke-width="1.5" stroke-linejoin="round" stroke-linecap="round"/>
<g transform="translate(295.0,293.7) scale(1.17,1)"><ellipse rx="2.0" ry="1.9" fill="#000"/></g>
<g transform="translate(295.1,288.9) scale(1.17,1)"><ellipse rx="2.0" ry="1.9" fill="#000"/></g>
<g transform="translate(295.1,282.7) scale(1.17,1)"><ellipse rx="2.0" ry="1.9" fill="#000"/></g>
<g transform="translate(295.1,272.6) scale(1.17,1)"><ellipse rx="2.0" ry="1.9" fill="#000"/></g>
<g transform="translate(295.2,259.2) scale(1.17,1)"><ellipse rx="2.0" ry="1.9" fill="#000"/></g>
<g transform="translate(295.3,242.0) scale(1.17,1)"><ellipse rx="2.0" ry="1.9" fill="#000"/></g>
<g transform="translate(295.5,221.0) scale(1.17,1)"><ellipse rx="2.0" ry="1.9" fill="#000"/></g>
<g transform="translate(295.7,200.1) scale(1.17,1)"><ellipse rx="2.0" ry="1.9" fill="#000"/></g>
<g transform="translate(296.1,159.4) scale(1.17,1)"><ellipse rx="2.0" ry="1.9" fill="#000"/></g>
<g transform="translate(296.2,139.6) scale(1.17,1)"><ellipse rx="2.0" ry="1.9" fill="#000"/></g>
<g transform="translate(296.3,127.6) scale(1.17,1)"><ellipse rx="2.0" ry="1.9" fill="#000"/></g>
<g transform="translate(296.4,104.0) scale(1.17,1)"><ellipse rx="2.0" ry="1.9" fill="#000"/></g>
<g transform="translate(297.4,86.0) scale(1.17,1)"><ellipse rx="2.0" ry="1.9" fill="#000"/></g>
<g transform="translate(297.4,83.8) scale(1.17,1)"><ellipse rx="2.0" ry="1.9" fill="#000"/></g>
<g transform="translate(297.5,81.6) scale(1.17,1)"><ellipse rx="2.0" ry="1.9" fill="#000"/></g>
<g transform="translate(297.5,79.4) scale(1.17,1)"><ellipse rx="2.0" ry="1.9" fill="#000"/></g>
<g transform="translate(297.6,77.2) scale(1.17,1)"><ellipse rx="2.0" ry="1.9" fill="#000"/></g>
<g transform="translate(297.6,75.0) scale(1.17,1)"><ellipse rx="2.0" ry="1.9" fill="#000"/></g>
<g transform="translate(297.6,72.8) scale(1.17,1)"><ellipse rx="2.0" ry="1.9" fill="#000"/></g>
<g transform="translate(297.7,70.6) scale(1.17,1)"><ellipse rx="2.0" ry="1.9" fill="#000"/></g>
<g transform="translate(297.7,68.4) scale(1.17,1)"><ellipse rx="2.0" ry="1.9" fill="#000"/></g>
<g transform="translate(297.8,66.2) scale(1.17,1)"><ellipse rx="2.0" ry="1.9" fill="#000"/></g>
<polyline points="298.0,66.0 298.3,84.0" fill="none" stroke="#000" stroke-width="5.0" stroke-linejoin="round" stroke-linecap="round"/>
<polyline points="298.5,81.0 302.5,84.5 305.5,88.5" fill="none" stroke="#000" stroke-width="6.5" stroke-linejoin="round" stroke-linecap="round"/>
<polyline points="297.8,65.0 299.2,67.0 299.8,75.0 300.5,81.0 303.0,86.0 306.0,91.0 309.0,95.5 311.0,100.0 311.5,105.0 312.5,110.0 313.7,115.0 315.0,120.0 315.8,125.0 317.0,128.0 319.6,134.0 322.3,140.0 324.0,145.0 325.9,150.0 328.0,154.0 330.6,157.0 332.5,161.0 334.5,165.0 336.9,170.0 338.5,175.0 339.6,180.0 341.0,185.0 341.0,188.5 343.0,193.0 345.0,196.5 348.0,200.0 353.0,203.3 358.0,204.8 365.0,207.5 372.0,211.0 378.0,214.0" fill="none" stroke="#000" stroke-width="5.0" stroke-linejoin="round" stroke-linecap="round"/>
<polyline points="223.7,115.1 226.2,119.2 228.8,123.5 230.9,128.0 236.7,135.5 242.5,143.0 248.0,149.5 253.2,155.7 258.0,158.8 262.0,161.0 267.0,163.9 275.0,168.1 285.0,172.0 293.0,174.5 300.0,176.0 306.0,177.0 311.0,178.5 314.0,181.5 316.5,183.8 326.0,186.5 336.0,188.2 340.0,189.6 350.0,193.9 355.0,196.1 365.0,200.3 375.0,205.8 383.0,209.0 388.0,213.0" fill="none" stroke="#ff00ff" stroke-width="4.4" stroke-linejoin="round" stroke-linecap="round"/>
<g transform="translate(258.3,158.3) scale(1.17,1)"><circle r="2.2" fill="none" stroke="#ff20ff" stroke-width="1.1"/></g>
<g transform="translate(260.2,161.2) scale(1.17,1)"><circle r="2.2" fill="none" stroke="#ff20ff" stroke-width="1.1"/></g>
<g transform="translate(262.2,160.4) scale(1.17,1)"><circle r="2.2" fill="none" stroke="#ff20ff" stroke-width="1.1"/></g>
<g transform="translate(264.1,163.3) scale(1.17,1)"><circle r="2.2" fill="none" stroke="#ff20ff" stroke-width="1.1"/></g>
<g transform="translate(266.0,162.6) scale(1.17,1)"><circle r="2.2" fill="none" stroke="#ff20ff" stroke-width="1.1"/></g>
<g transform="translate(267.9,165.5) scale(1.17,1)"><circle r="2.2" fill="none" stroke="#ff20ff" stroke-width="1.1"/></g>
<g transform="translate(269.8,164.7) scale(1.17,1)"><circle r="2.2" fill="none" stroke="#ff20ff" stroke-width="1.1"/></g>
<g transform="translate(271.8,167.5) scale(1.17,1)"><circle r="2.2" fill="none" stroke="#ff20ff" stroke-width="1.1"/></g>
<g transform="translate(273.7,166.8) scale(1.17,1)"><circle r="2.2" fill="none" stroke="#ff20ff" stroke-width="1.1"/></g>
<g transform="translate(275.7,169.6) scale(1.17,1)"><circle r="2.2" fill="none" stroke="#ff20ff" stroke-width="1.1"/></g>
<g transform="translate(277.7,168.6) scale(1.17,1)"><circle r="2.2" fill="none" stroke="#ff20ff" stroke-width="1.1"/></g>
<g transform="translate(279.8,171.2) scale(1.17,1)"><circle r="2.2" fill="none" stroke="#ff20ff" stroke-width="1.1"/></g>
<g transform="translate(281.8,170.2) scale(1.17,1)"><circle r="2.2" fill="none" stroke="#ff20ff" stroke-width="1.1"/></g>
<g transform="translate(283.9,172.7) scale(1.17,1)"><circle r="2.2" fill="none" stroke="#ff20ff" stroke-width="1.1"/></g>
<g transform="translate(286.0,171.7) scale(1.17,1)"><circle r="2.2" fill="none" stroke="#ff20ff" stroke-width="1.1"/></g>
<g transform="translate(288.1,174.2) scale(1.17,1)"><circle r="2.2" fill="none" stroke="#ff20ff" stroke-width="1.1"/></g>
<g transform="translate(290.2,173.0) scale(1.17,1)"><circle r="2.2" fill="none" stroke="#ff20ff" stroke-width="1.1"/></g>
<g transform="translate(292.3,175.5) scale(1.17,1)"><circle r="2.2" fill="none" stroke="#ff20ff" stroke-width="1.1"/></g>
<g transform="translate(294.4,174.2) scale(1.17,1)"><circle r="2.2" fill="none" stroke="#ff20ff" stroke-width="1.1"/></g>
<g transform="translate(296.5,176.5) scale(1.17,1)"><circle r="2.2" fill="none" stroke="#ff20ff" stroke-width="1.1"/></g>
<g transform="translate(298.7,175.2) scale(1.17,1)"><circle r="2.2" fill="none" stroke="#ff20ff" stroke-width="1.1"/></g>
<g transform="translate(300.8,177.4) scale(1.17,1)"><circle r="2.2" fill="none" stroke="#ff20ff" stroke-width="1.1"/></g>
<g transform="translate(303.0,176.0) scale(1.17,1)"><circle r="2.2" fill="none" stroke="#ff20ff" stroke-width="1.1"/></g>
<g transform="translate(305.2,178.1) scale(1.17,1)"><circle r="2.2" fill="none" stroke="#ff20ff" stroke-width="1.1"/></g>
<g transform="translate(384.0,209.5) scale(1.17,1)"><circle r="2.1" fill="#fff" stroke="#ff70ff" stroke-width="1"/></g>
<g transform="translate(387.5,212.5) scale(1.17,1)"><circle r="2.1" fill="#fff" stroke="#ff70ff" stroke-width="1"/></g>
<g transform="translate(312.5,178.8) scale(1.17,1)"><circle r="2.1" fill="#fff" stroke="#ff70ff" stroke-width="1"/></g>
<g transform="translate(321.5,183.5) scale(1.17,1)"><circle r="2.1" fill="#fff" stroke="#ff70ff" stroke-width="1"/></g>
<g transform="translate(331.0,186.5) scale(1.17,1)"><circle r="2.1" fill="#fff" stroke="#ff70ff" stroke-width="1"/></g>
<rect x="76.4" y="9.1" width="463.70000000000005" height="306.29999999999995" fill="none" stroke="#111" stroke-width="1.3"/>
<line x1="72.8" y1="315.4" x2="76.4" y2="315.4" stroke="#111" stroke-width="1.3"/>
<line x1="76.40" y1="315.4" x2="76.40" y2="321.60" stroke="#111" stroke-width="1.3"/>
<line x1="94.96" y1="315.4" x2="94.96" y2="318.80" stroke="#111" stroke-width="1.3"/>
<line x1="113.53" y1="315.4" x2="113.53" y2="321.60" stroke="#111" stroke-width="1.3"/>
<line x1="132.09" y1="315.4" x2="132.09" y2="318.80" stroke="#111" stroke-width="1.3"/>
<line x1="150.65" y1="315.4" x2="150.65" y2="321.60" stroke="#111" stroke-width="1.3"/>
<line x1="169.21" y1="315.4" x2="169.21" y2="318.80" stroke="#111" stroke-width="1.3"/>
<line x1="187.78" y1="315.4" x2="187.78" y2="321.60" stroke="#111" stroke-width="1.3"/>
<line x1="206.34" y1="315.4" x2="206.34" y2="318.80" stroke="#111" stroke-width="1.3"/>
<line x1="224.90" y1="315.4" x2="224.90" y2="321.60" stroke="#111" stroke-width="1.3"/>
<line x1="243.46" y1="315.4" x2="243.46" y2="318.80" stroke="#111" stroke-width="1.3"/>
<line x1="262.02" y1="315.4" x2="262.02" y2="321.60" stroke="#111" stroke-width="1.3"/>
<line x1="280.59" y1="315.4" x2="280.59" y2="318.80" stroke="#111" stroke-width="1.3"/>
<line x1="299.15" y1="315.4" x2="299.15" y2="321.60" stroke="#111" stroke-width="1.3"/>
<line x1="317.71" y1="315.4" x2="317.71" y2="318.80" stroke="#111" stroke-width="1.3"/>
<line x1="336.27" y1="315.4" x2="336.27" y2="321.60" stroke="#111" stroke-width="1.3"/>
<line x1="354.84" y1="315.4" x2="354.84" y2="318.80" stroke="#111" stroke-width="1.3"/>
<line x1="373.40" y1="315.4" x2="373.40" y2="321.60" stroke="#111" stroke-width="1.3"/>
<line x1="391.96" y1="315.4" x2="391.96" y2="318.80" stroke="#111" stroke-width="1.3"/>
<line x1="410.52" y1="315.4" x2="410.52" y2="321.60" stroke="#111" stroke-width="1.3"/>
<line x1="429.09" y1="315.4" x2="429.09" y2="318.80" stroke="#111" stroke-width="1.3"/>
<line x1="447.65" y1="315.4" x2="447.65" y2="321.60" stroke="#111" stroke-width="1.3"/>
<line x1="466.21" y1="315.4" x2="466.21" y2="318.80" stroke="#111" stroke-width="1.3"/>
<line x1="484.77" y1="315.4" x2="484.77" y2="321.60" stroke="#111" stroke-width="1.3"/>
<line x1="503.34" y1="315.4" x2="503.34" y2="318.80" stroke="#111" stroke-width="1.3"/>
<line x1="521.90" y1="315.4" x2="521.90" y2="321.60" stroke="#111" stroke-width="1.3"/>
<line x1="540.46" y1="315.4" x2="540.46" y2="321.60" stroke="#111" stroke-width="1.3"/>
<line x1="69.40" y1="309.80" x2="76.4" y2="309.80" stroke="#111" stroke-width="1.3"/>
<line x1="72.80" y1="281.90" x2="76.4" y2="281.90" stroke="#111" stroke-width="1.3"/>
<line x1="69.40" y1="254.00" x2="76.4" y2="254.00" stroke="#111" stroke-width="1.3"/>
<line x1="72.80" y1="226.10" x2="76.4" y2="226.10" stroke="#111" stroke-width="1.3"/>
<line x1="69.40" y1="198.20" x2="76.4" y2="198.20" stroke="#111" stroke-width="1.3"/>
<line x1="72.80" y1="170.30" x2="76.4" y2="170.30" stroke="#111" stroke-width="1.3"/>
<line x1="69.40" y1="142.40" x2="76.4" y2="142.40" stroke="#111" stroke-width="1.3"/>
<line x1="72.80" y1="114.50" x2="76.4" y2="114.50" stroke="#111" stroke-width="1.3"/>
<line x1="69.40" y1="86.60" x2="76.4" y2="86.60" stroke="#111" stroke-width="1.3"/>
<line x1="72.80" y1="58.70" x2="76.4" y2="58.70" stroke="#111" stroke-width="1.3"/>
<line x1="69.40" y1="30.80" x2="76.4" y2="30.80" stroke="#111" stroke-width="1.3"/>
<text transform="translate(77.30,334.6) scale(1.09,1)" text-anchor="middle" class="tl">0</text>
<text transform="translate(115.53,334.6) scale(1.09,1)" text-anchor="middle" class="tl">10</text>
<text transform="translate(152.65,334.6) scale(1.09,1)" text-anchor="middle" class="tl">20</text>
<text transform="translate(189.78,334.6) scale(1.09,1)" text-anchor="middle" class="tl">30</text>
<text transform="translate(226.90,334.6) scale(1.09,1)" text-anchor="middle" class="tl">40</text>
<text transform="translate(264.02,334.6) scale(1.09,1)" text-anchor="middle" class="tl">50</text>
<text transform="translate(301.15,334.6) scale(1.09,1)" text-anchor="middle" class="tl">60</text>
<text transform="translate(338.27,334.6) scale(1.09,1)" text-anchor="middle" class="tl">70</text>
<text transform="translate(375.40,334.6) scale(1.09,1)" text-anchor="middle" class="tl">80</text>
<text transform="translate(412.52,334.6) scale(1.09,1)" text-anchor="middle" class="tl">90</text>
<text transform="translate(450.25,334.6) scale(1.09,1)" text-anchor="middle" class="tl">100</text>
<text transform="translate(487.38,334.6) scale(1.09,1)" text-anchor="middle" class="tl">110</text>
<text transform="translate(524.50,334.6) scale(1.09,1)" text-anchor="middle" class="tl">120</text>
<text transform="translate(66.3,313.20) scale(1.09,1)" text-anchor="end" class="tl">300</text>
<text transform="translate(66.3,257.40) scale(1.09,1)" text-anchor="end" class="tl">800</text>
<text transform="translate(66.3,201.60) scale(1.09,1)" text-anchor="end" class="tl">1300</text>
<text transform="translate(66.3,145.80) scale(1.09,1)" text-anchor="end" class="tl">1800</text>
<text transform="translate(66.3,90.00) scale(1.09,1)" text-anchor="end" class="tl">2300</text>
<text transform="translate(66.3,34.20) scale(1.09,1)" text-anchor="end" class="tl">2800</text>
<text transform="translate(324.7,359.4) scale(1.15,1)" text-anchor="middle" class="at">Time(s)</text>
<text transform="translate(20.1,146) rotate(-90) scale(1.0,1.03)" text-anchor="middle" class="at" style="font-size:16.2px">Temperature(K)</text>
<rect x="381.2" y="10.5" width="158.3" height="108.5" fill="#fff" stroke="#444" stroke-width="1"/>
<line x1="382" y1="119.5" x2="540.5" y2="119.5" stroke="#555" stroke-width="2"/>
<line x1="539.7" y1="9" x2="539.7" y2="120" stroke="#555" stroke-width="2.4"/>
<line x1="382" y1="9.6" x2="540" y2="9.6" stroke="#555" stroke-width="1.6"/>
<line x1="391.6" y1="23.20" x2="443.2" y2="23.20" stroke="#111" stroke-width="1.1"/>
<g transform="translate(417.4,23.20) scale(1.25)"><ellipse rx="2.0" ry="1.9" fill="#000"/></g>
<text transform="translate(530.3,28.6) scale(1.03,1)" text-anchor="end" class="lg">0 wt. % Ni</text>
<line x1="391.6" y1="39.00" x2="443.2" y2="39.00" stroke="#ff4040" stroke-width="1.1"/>
<g transform="translate(417.4,39.00) scale(1.25)"><polygon points="0,-2.6 2.2,1.5 -2.2,1.5" fill="#ff0000"/></g>
<text transform="translate(530.3,45.5) scale(1.03,1)" text-anchor="end" class="lg">10 wt. % Ni</text>
<line x1="391.6" y1="56.20" x2="443.2" y2="56.20" stroke="#20f020" stroke-width="1.1"/>
<g transform="translate(417.4,56.20) scale(1.25)"><polygon points="0.00,-2.60 0.69,-0.95 2.47,-0.80 1.11,0.36 1.53,2.10 0.00,1.17 -1.53,2.10 -1.11,0.36 -2.47,-0.80 -0.69,-0.95" fill="#fff" stroke="#55e878" stroke-width="0.85"/></g>
<text transform="translate(530.3,61.9) scale(1.03,1)" text-anchor="end" class="lg">20 wt. % Ni</text>
<line x1="391.6" y1="74.50" x2="443.2" y2="74.50" stroke="#2020ff" stroke-width="1.1"/>
<g transform="translate(417.4,74.50) scale(1.25)"><polygon points="0.00,-2.50 0.66,-0.91 2.38,-0.77 1.07,0.35 1.47,2.02 0.00,1.12 -1.47,2.02 -1.07,0.35 -2.38,-0.77 -0.66,-0.91" fill="#0000ff"/></g>
<text transform="translate(530.3,79.5) scale(1.03,1)" text-anchor="end" class="lg">30 wt. % Ni</text>
<line x1="391.6" y1="92.10" x2="443.2" y2="92.10" stroke="#ff80ff" stroke-width="1.1"/>
<g transform="translate(417.4,92.10) scale(1.25)"><circle r="2.1" fill="#fff" stroke="#ff70ff" stroke-width="1"/></g>
<text transform="translate(530.3,95.8) scale(1.03,1)" text-anchor="end" class="lg">40 wt. % Ni</text>
<line x1="391.6" y1="109.30" x2="443.2" y2="109.30" stroke="#ffff00" stroke-width="1.1"/>
<g transform="translate(417.4,109.30) scale(1.25)"><polygon points="0,2.4 2.2,-1.6 -2.2,-1.6" fill="#fff" stroke="#f2ee70" stroke-width="0.9"/></g>
<text transform="translate(530.3,112.1) scale(1.03,1)" text-anchor="end" class="lg">50 wt. % Ni</text>
</svg></body></html>
